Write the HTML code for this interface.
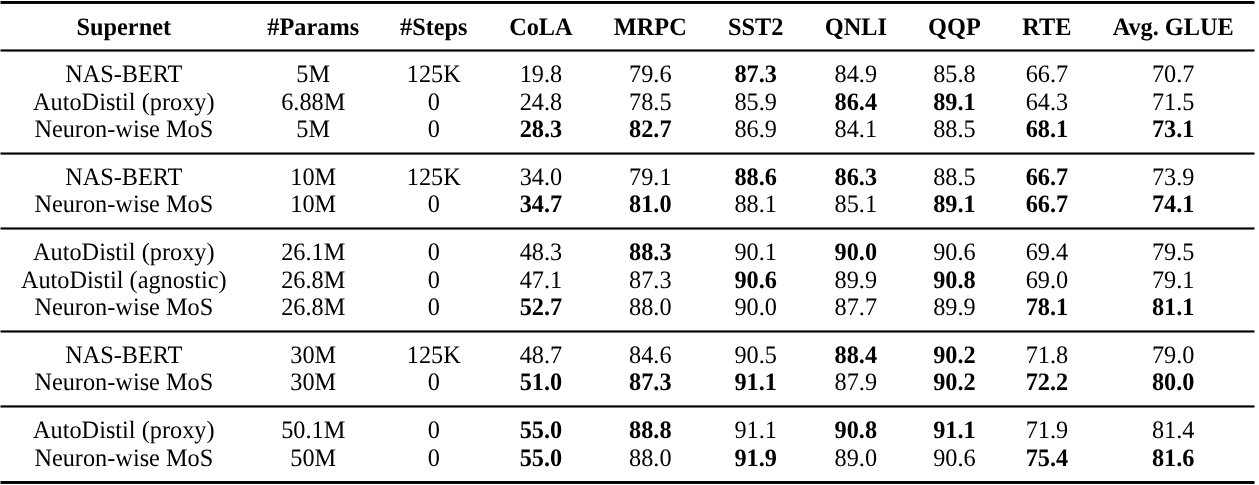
<!DOCTYPE html>
<html><head><meta charset="utf-8"><title>Table</title>
<style>
html,body{margin:0;padding:0;background:#fff;}
body{width:1259px;height:485px;position:relative;overflow:hidden;font-family:"Liberation Serif",serif;font-size:24.3px;color:#000;}
.c{position:absolute;width:300px;margin-left:-150px;text-align:center;white-space:nowrap;line-height:28.0px;height:28.0px;transform:scaleY(1.03);transform-origin:50% 22.20px;}
.b{font-weight:bold;}
#w{position:absolute;left:0;top:0;width:1259px;height:485px;will-change:transform;text-rendering:geometricPrecision;}
</style></head><body><div id="w">
<svg width="1259" height="485" viewBox="0 0 1259 485" style="position:absolute;left:0;top:0">
<rect x="0.5" y="1.0" width="1254.0" height="2.92" fill="#000"/>
<rect x="0.5" y="49.42" width="1254.0" height="2.15" fill="#000"/>
<rect x="0.5" y="152.48" width="1254.0" height="2.15" fill="#000"/>
<rect x="0.5" y="227.42" width="1254.0" height="2.15" fill="#000"/>
<rect x="0.5" y="330.4" width="1254.0" height="2.15" fill="#000"/>
<rect x="0.5" y="405.38" width="1254.0" height="2.15" fill="#000"/>
<rect x="0.5" y="481.02" width="1254.0" height="2.92" fill="#000"/>
</svg>
<div class="c b" style="left:123.80px;top:13.80px">Supernet</div>
<div class="c b" style="left:313.25px;top:13.80px">#Params</div>
<div class="c b" style="left:433.75px;top:13.80px">#Steps</div>
<div class="c b" style="left:540.90px;top:13.80px">CoLA</div>
<div class="c b" style="left:650.30px;top:13.80px">MRPC</div>
<div class="c b" style="left:755.70px;top:13.80px">SST2</div>
<div class="c b" style="left:855.80px;top:13.80px">QNLI</div>
<div class="c b" style="left:954.45px;top:13.80px">QQP</div>
<div class="c b" style="left:1046.90px;top:13.80px">RTE</div>
<div class="c b" style="left:1173.20px;top:13.80px">Avg. GLUE</div>
<div class="c" style="left:123.80px;top:60.80px">NAS-BERT</div>
<div class="c" style="left:313.25px;top:60.80px">5M</div>
<div class="c" style="left:433.75px;top:60.80px">125K</div>
<div class="c" style="left:540.90px;top:60.80px">19.8</div>
<div class="c" style="left:650.30px;top:60.80px">79.6</div>
<div class="c b" style="left:755.70px;top:60.80px">87.3</div>
<div class="c" style="left:855.80px;top:60.80px">84.9</div>
<div class="c" style="left:954.45px;top:60.80px">85.8</div>
<div class="c" style="left:1046.90px;top:60.80px">66.7</div>
<div class="c" style="left:1173.20px;top:60.80px">70.7</div>
<div class="c" style="left:123.80px;top:88.80px">AutoDistil (proxy)</div>
<div class="c" style="left:313.25px;top:88.80px">6.88M</div>
<div class="c" style="left:433.75px;top:88.80px">0</div>
<div class="c" style="left:540.90px;top:88.80px">24.8</div>
<div class="c" style="left:650.30px;top:88.80px">78.5</div>
<div class="c" style="left:755.70px;top:88.80px">85.9</div>
<div class="c b" style="left:855.80px;top:88.80px">86.4</div>
<div class="c b" style="left:954.45px;top:88.80px">89.1</div>
<div class="c" style="left:1046.90px;top:88.80px">64.3</div>
<div class="c" style="left:1173.20px;top:88.80px">71.5</div>
<div class="c" style="left:123.80px;top:115.80px">Neuron-wise MoS</div>
<div class="c" style="left:313.25px;top:115.80px">5M</div>
<div class="c" style="left:433.75px;top:115.80px">0</div>
<div class="c b" style="left:540.90px;top:115.80px">28.3</div>
<div class="c b" style="left:650.30px;top:115.80px">82.7</div>
<div class="c" style="left:755.70px;top:115.80px">86.9</div>
<div class="c" style="left:855.80px;top:115.80px">84.1</div>
<div class="c" style="left:954.45px;top:115.80px">88.5</div>
<div class="c b" style="left:1046.90px;top:115.80px">68.1</div>
<div class="c b" style="left:1173.20px;top:115.80px">73.1</div>
<div class="c" style="left:123.80px;top:163.80px">NAS-BERT</div>
<div class="c" style="left:313.25px;top:163.80px">10M</div>
<div class="c" style="left:433.75px;top:163.80px">125K</div>
<div class="c" style="left:540.90px;top:163.80px">34.0</div>
<div class="c" style="left:650.30px;top:163.80px">79.1</div>
<div class="c b" style="left:755.70px;top:163.80px">88.6</div>
<div class="c b" style="left:855.80px;top:163.80px">86.3</div>
<div class="c" style="left:954.45px;top:163.80px">88.5</div>
<div class="c b" style="left:1046.90px;top:163.80px">66.7</div>
<div class="c" style="left:1173.20px;top:163.80px">73.9</div>
<div class="c" style="left:123.80px;top:190.80px">Neuron-wise MoS</div>
<div class="c" style="left:313.25px;top:190.80px">10M</div>
<div class="c" style="left:433.75px;top:190.80px">0</div>
<div class="c b" style="left:540.90px;top:190.80px">34.7</div>
<div class="c b" style="left:650.30px;top:190.80px">81.0</div>
<div class="c" style="left:755.70px;top:190.80px">88.1</div>
<div class="c" style="left:855.80px;top:190.80px">85.1</div>
<div class="c b" style="left:954.45px;top:190.80px">89.1</div>
<div class="c b" style="left:1046.90px;top:190.80px">66.7</div>
<div class="c b" style="left:1173.20px;top:190.80px">74.1</div>
<div class="c" style="left:123.80px;top:238.80px">AutoDistil (proxy)</div>
<div class="c" style="left:313.25px;top:238.80px">26.1M</div>
<div class="c" style="left:433.75px;top:238.80px">0</div>
<div class="c" style="left:540.90px;top:238.80px">48.3</div>
<div class="c b" style="left:650.30px;top:238.80px">88.3</div>
<div class="c" style="left:755.70px;top:238.80px">90.1</div>
<div class="c b" style="left:855.80px;top:238.80px">90.0</div>
<div class="c" style="left:954.45px;top:238.80px">90.6</div>
<div class="c" style="left:1046.90px;top:238.80px">69.4</div>
<div class="c" style="left:1173.20px;top:238.80px">79.5</div>
<div class="c" style="left:123.80px;top:266.80px">AutoDistil (agnostic)</div>
<div class="c" style="left:313.25px;top:266.80px">26.8M</div>
<div class="c" style="left:433.75px;top:266.80px">0</div>
<div class="c" style="left:540.90px;top:266.80px">47.1</div>
<div class="c" style="left:650.30px;top:266.80px">87.3</div>
<div class="c b" style="left:755.70px;top:266.80px">90.6</div>
<div class="c" style="left:855.80px;top:266.80px">89.9</div>
<div class="c b" style="left:954.45px;top:266.80px">90.8</div>
<div class="c" style="left:1046.90px;top:266.80px">69.0</div>
<div class="c" style="left:1173.20px;top:266.80px">79.1</div>
<div class="c" style="left:123.80px;top:293.80px">Neuron-wise MoS</div>
<div class="c" style="left:313.25px;top:293.80px">26.8M</div>
<div class="c" style="left:433.75px;top:293.80px">0</div>
<div class="c b" style="left:540.90px;top:293.80px">52.7</div>
<div class="c" style="left:650.30px;top:293.80px">88.0</div>
<div class="c" style="left:755.70px;top:293.80px">90.0</div>
<div class="c" style="left:855.80px;top:293.80px">87.7</div>
<div class="c" style="left:954.45px;top:293.80px">89.9</div>
<div class="c b" style="left:1046.90px;top:293.80px">78.1</div>
<div class="c b" style="left:1173.20px;top:293.80px">81.1</div>
<div class="c" style="left:123.80px;top:341.80px">NAS-BERT</div>
<div class="c" style="left:313.25px;top:341.80px">30M</div>
<div class="c" style="left:433.75px;top:341.80px">125K</div>
<div class="c" style="left:540.90px;top:341.80px">48.7</div>
<div class="c" style="left:650.30px;top:341.80px">84.6</div>
<div class="c" style="left:755.70px;top:341.80px">90.5</div>
<div class="c b" style="left:855.80px;top:341.80px">88.4</div>
<div class="c b" style="left:954.45px;top:341.80px">90.2</div>
<div class="c" style="left:1046.90px;top:341.80px">71.8</div>
<div class="c" style="left:1173.20px;top:341.80px">79.0</div>
<div class="c" style="left:123.80px;top:368.80px">Neuron-wise MoS</div>
<div class="c" style="left:313.25px;top:368.80px">30M</div>
<div class="c" style="left:433.75px;top:368.80px">0</div>
<div class="c b" style="left:540.90px;top:368.80px">51.0</div>
<div class="c b" style="left:650.30px;top:368.80px">87.3</div>
<div class="c b" style="left:755.70px;top:368.80px">91.1</div>
<div class="c" style="left:855.80px;top:368.80px">87.9</div>
<div class="c b" style="left:954.45px;top:368.80px">90.2</div>
<div class="c b" style="left:1046.90px;top:368.80px">72.2</div>
<div class="c b" style="left:1173.20px;top:368.80px">80.0</div>
<div class="c" style="left:123.80px;top:416.80px">AutoDistil (proxy)</div>
<div class="c" style="left:313.25px;top:416.80px">50.1M</div>
<div class="c" style="left:433.75px;top:416.80px">0</div>
<div class="c b" style="left:540.90px;top:416.80px">55.0</div>
<div class="c b" style="left:650.30px;top:416.80px">88.8</div>
<div class="c" style="left:755.70px;top:416.80px">91.1</div>
<div class="c b" style="left:855.80px;top:416.80px">90.8</div>
<div class="c b" style="left:954.45px;top:416.80px">91.1</div>
<div class="c" style="left:1046.90px;top:416.80px">71.9</div>
<div class="c" style="left:1173.20px;top:416.80px">81.4</div>
<div class="c" style="left:123.80px;top:444.80px">Neuron-wise MoS</div>
<div class="c" style="left:313.25px;top:444.80px">50M</div>
<div class="c" style="left:433.75px;top:444.80px">0</div>
<div class="c b" style="left:540.90px;top:444.80px">55.0</div>
<div class="c" style="left:650.30px;top:444.80px">88.0</div>
<div class="c b" style="left:755.70px;top:444.80px">91.9</div>
<div class="c" style="left:855.80px;top:444.80px">89.0</div>
<div class="c" style="left:954.45px;top:444.80px">90.6</div>
<div class="c b" style="left:1046.90px;top:444.80px">75.4</div>
<div class="c b" style="left:1173.20px;top:444.80px">81.6</div>
</div></body></html>
